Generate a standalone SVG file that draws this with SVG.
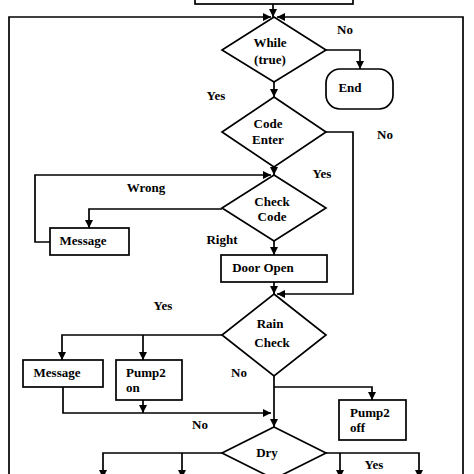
<svg xmlns="http://www.w3.org/2000/svg" width="474" height="474" viewBox="0 0 474 474">
<style>
.s{fill:#fff;stroke:#000;stroke-width:1.7}
.c{fill:none;stroke:#000;stroke-width:1.7}
text{font-family:"Liberation Serif","Times New Roman",serif;font-weight:bold;font-size:13px;fill:#000}
.m{text-anchor:middle}
</style>
<defs>
<marker id="a" viewBox="0 0 10 10" refX="10" refY="5" markerWidth="8" markerHeight="8" markerUnits="userSpaceOnUse" orient="auto">
<path d="M0,0L10,5L0,10z" fill="#000"/>
</marker>
</defs>
<rect width="474" height="474" fill="#fff"/>
<g id="connectors" class="c" marker-end="url(#a)">
<path d="M273,4V17"/>
<path d="M9,474V17H271"/>
<path d="M463,474V17H277"/>
<path d="M326,50H360V69"/>
<path d="M274,82V97"/>
<path d="M326,132H353V294H277"/>
<path d="M274,167V175"/>
<path d="M50,242H35V175H271"/>
<path d="M222,209H89V228"/>
<path d="M274,241V255"/>
<path d="M274,282V294"/>
<path d="M222,335H62V360"/>
<path d="M143,335V360"/>
<path d="M63,387V413H271"/>
<path d="M143,400V413"/>
<path d="M274,376V427"/>
<path d="M274,387H372V400"/>
<path d="M222,453H103V478"/>
<path d="M182,453V478"/>
<path d="M326,453H419V478"/>
<path d="M340,453V478"/>
</g>
<g id="start"><rect class="s" x="195" y="-10" width="158" height="14"/></g>
<g id="while"><path class="s" d="M274,17L326,50L274,82L222,50z"/><text class="m" x="270" y="47">While</text><text class="m" x="270" y="64">(true)</text></g>
<g id="end"><rect class="s" x="326" y="69" width="67" height="40" rx="14"/><text class="m" x="350" y="92">End</text></g>
<g id="code"><path class="s" d="M274,97L326,132L274,167L222,132z"/><text class="m" x="268" y="128">Code</text><text class="m" x="268" y="144">Enter</text></g>
<g id="check"><path class="s" d="M274,175L326,208L274,241L222,208z"/><text class="m" x="272" y="206">Check</text><text class="m" x="272" y="221">Code</text></g>
<g id="msg1"><rect class="s" x="50" y="228" width="79" height="27"/><text class="m" x="83" y="245">Message</text></g>
<g id="door"><rect class="s" x="221" y="255" width="106" height="27"/><text class="m" x="263" y="272">Door Open</text></g>
<g id="rain"><path class="s" d="M274,294L326,335L274,376L222,335z"/><text class="m" x="270" y="328">Rain</text><text class="m" x="272" y="347">Check</text></g>
<g id="msg2"><rect class="s" x="23" y="360" width="80" height="27"/><text class="m" x="57" y="377">Message</text></g>
<g id="pumpon"><rect class="s" x="116" y="360" width="66" height="40"/><text x="126" y="377">Pump2</text><text x="126" y="392">on</text></g>
<g id="pumpoff"><rect class="s" x="339" y="400" width="67" height="40"/><text x="350" y="417">Pump2</text><text x="350" y="432">off</text></g>
<g id="dry"><path class="s" d="M274,427L326,453L274,479L222,453z"/><text class="m" x="267" y="457">Dry</text></g>
<g id="labels">
<text class="m" x="345" y="34">No</text>
<text class="m" x="216" y="100">Yes</text>
<text class="m" x="385" y="139">No</text>
<text class="m" x="322" y="178">Yes</text>
<text class="m" x="146" y="192">Wrong</text>
<text class="m" x="222" y="244">Right</text>
<text class="m" x="163" y="310">Yes</text>
<text class="m" x="239" y="377">No</text>
<text class="m" x="200" y="429">No</text>
<text class="m" x="374" y="469">Yes</text>
</g>
</svg>
